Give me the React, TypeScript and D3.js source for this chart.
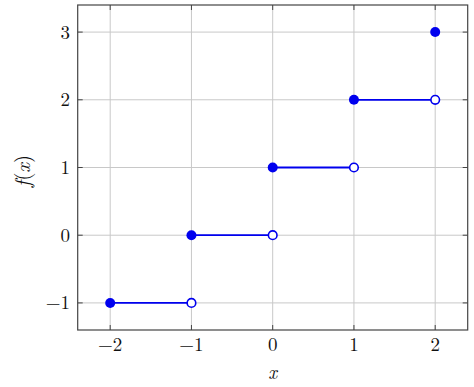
import React from "react";
import * as d3 from "d3";

const xTicks = [-2, -1, 0, 1, 2];
const yTicks = [-1, 0, 1, 2, 3];
const segStart = [-2, -1, 0, 1];
const segValue = [-1, 0, 1, 2];
const lastPointX = [2];
const lastPointY = [3];

const W = 474;
const H = 387;
const M = { left: 77.7, right: 467.7, top: 5, bottom: 330 };

export default function App() {
  const x = d3.scaleLinear().domain([-2.4, 2.4]).range([M.left, M.right]);
  const y = d3.scaleLinear().domain([-1.4, 3.4]).range([M.bottom, M.top]);
  const blue = "#0000ee";
  const font = "'Latin Modern Roman', 'DejaVu Serif', 'Liberation Serif', serif";
  const minus = (v: number) => (v < 0 ? "\u2212" + Math.abs(v) : String(v));
  const line = d3.line<[number, number]>().x((d) => x(d[0])).y((d) => y(d[1]));

  return (
    <svg width={W} height={H} style={{ position: "absolute", left: 0, top: 0 }}>
      <rect x={0} y={0} width={W} height={H} fill="#fff" />
      {xTicks.map((t) => (
        <line key={"gx" + t} x1={x(t)} x2={x(t)} y1={M.top} y2={M.bottom} stroke="#c8c8c8" strokeWidth={1} />
      ))}
      {yTicks.map((t) => (
        <line key={"gy" + t} x1={M.left} x2={M.right} y1={y(t)} y2={y(t)} stroke="#c8c8c8" strokeWidth={1} />
      ))}
      {xTicks.map((t) => (
        <g key={"tx" + t}>
          <line x1={x(t)} x2={x(t)} y1={M.bottom} y2={M.bottom - 5} stroke="#444" />
          <line x1={x(t)} x2={x(t)} y1={M.top} y2={M.top + 5} stroke="#444" />
          <text x={x(t)} y={350.5} textAnchor="middle" fontFamily={font} fontSize={19} fill="#111">
            {minus(t)}
          </text>
        </g>
      ))}
      {yTicks.map((t) => (
        <g key={"ty" + t}>
          <line x1={M.left} x2={M.left + 5} y1={y(t)} y2={y(t)} stroke="#444" />
          <line x1={M.right} x2={M.right - 5} y1={y(t)} y2={y(t)} stroke="#444" />
          <text x={70} y={y(t) + 6.5} textAnchor="end" fontFamily={font} fontSize={19} fill="#111">
            {minus(t)}
          </text>
        </g>
      ))}
      <rect x={M.left} y={M.top} width={M.right - M.left} height={M.bottom - M.top} fill="none" stroke="#444" strokeWidth={1.2} />
      {segStart.map((s, i) => (
        <path key={"s" + i} d={line([[s, segValue[i]], [s + 1, segValue[i]]]) || ""} stroke={blue} strokeWidth={1.8} fill="none" />
      ))}
      {segStart.map((s, i) => (
        <circle key={"o" + i} cx={x(s + 1)} cy={y(segValue[i])} r={4.3} fill="#fff" stroke={blue} strokeWidth={1.6} />
      ))}
      {segStart.map((s, i) => (
        <circle key={"f" + i} cx={x(s)} cy={y(segValue[i])} r={5} fill={blue} />
      ))}
      {lastPointX.map((px, i) => (
        <circle key={"l" + i} cx={x(px)} cy={y(lastPointY[i])} r={5} fill={blue} />
      ))}
      <text x={(M.left + M.right) / 2} y={379} textAnchor="middle" fontFamily={font} fontStyle="italic" fontSize={19} fill="#111">
        x
      </text>
      <text
        transform={`translate(30, 171) rotate(-90)`}
        textAnchor="middle"
        fontFamily={font}
        fontSize={21}
        fill="#111"
      >
        <tspan fontStyle="italic">f</tspan>
        <tspan>(</tspan>
        <tspan fontStyle="italic">x</tspan>
        <tspan>)</tspan>
      </text>
    </svg>
  );
}
